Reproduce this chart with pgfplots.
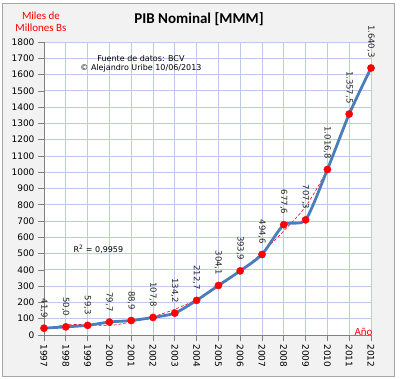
\documentclass[border=0pt]{standalone}
\usepackage{pgfplots}
\pgfplotsset{compat=1.18}
\usepackage{pgfplotstable}
\usepackage{graphicx}
\usepackage{fontspec}
\setmainfont{Carlito}
\newfontfamily\dv{DejaVu Sans}
\definecolor{gridblue}{HTML}{BCCBEA}
\definecolor{lineblue}{HTML}{4A7EBB}
\definecolor{bggray}{HTML}{F2F2F2}
\definecolor{framegray}{HTML}{A6A6A6}
\pgfplotstableread{
year val label
1997 41.9 41,9
1998 50.0 50,0
1999 59.3 59,3
2000 79.7 79,7
2001 88.9 88,9
2002 107.8 107,8
2003 134.2 134,2
2004 212.7 212,7
2005 304.1 304,1
2006 393.9 393,9
2007 494.6 494,6
2008 677.6 677,6
2009 707.3 707,3
2010 1016.8 1.016,8
2011 1357.5 1.357,5
2012 1640.3 1.640,3
}\pib
\begin{document}
\begin{tikzpicture}[x=1pt,y=1pt]
\useasboundingbox (0,0) rectangle (400,379);
\fill[white] (0,0) rectangle (400,379);
\draw[framegray,fill=bggray] (2,3) rectangle (394,376);
\fill[white] (44,44) rectangle (371,337);
\begin{axis}[
  at={(44pt,44pt)}, anchor=south west,
  scale only axis, width=327pt, height=293pt,
  xmin=1997, xmax=2012, ymin=0, ymax=1800,
  xtick={1997,...,2012}, ytick={0,100,...,1800},
  grid=major,
  grid style={gridblue, line width=0.8pt},
  axis lines*=left,
  axis line style={gray, line width=0.6pt},
  tick style={gray, line width=0.6pt},
  tick align=outside,
  major tick length=6pt,
  x tick label style={rotate=-90, anchor=west, font=\dv\fontsize{9}{11}\selectfont, /pgf/number format/1000 sep={}},
  y tick label style={font=\dv\fontsize{9}{11}\selectfont, /pgf/number format/1000 sep={}},
  /pgf/number format/assume math mode=true,
  clip=false,
]
\addplot[red, densely dashed, line width=0.6pt, smooth] coordinates {
 (1997,38) (1998,62) (1999,64) (2000,58) (2001,80) (2002,112) (2003,158) (2004,218) (2005,297) (2006,392) (2007,505) (2008,640) (2009,790) (2010,1020) (2011,1345) (2012,1645)};
\addplot[lineblue, line width=2.8pt, smooth, tension=0.4] table[x=year, y=val] {\pib};
\addplot[only marks, mark=*, mark size=3.6pt, red,
  nodes near coords={\rotatebox{-90}{\pgfplotspointmeta}}, point meta=explicit symbolic,
  every node near coord/.append style={black!85, font=\dv\fontsize{8.5}{10}\selectfont, yshift=7pt}
] table[x=year, y=val, meta=label] {\pib};
\end{axis}
\node[font=\fontsize{15}{17}\selectfont\bfseries] at (199,360) {PIB Nominal [MMM]};
\node[red, font=\fontsize{11}{13}\selectfont, align=center] at (41,357) {Miles de\\[-1pt]Millones Bs};
\node[font=\dv\fontsize{8}{10}\selectfont, align=center] at (141,315) {Fuente de datos: BCV\\[-0.5pt]\textcopyright\ Alejandro Uribe 10/06/2013};
\node[font=\dv\fontsize{8}{10}\selectfont, anchor=west] at (70,130) {R\textsuperscript{2} = 0,9959};
\node[red, font=\fontsize{11}{13}\selectfont, anchor=east] at (376,47) {Año};
\end{tikzpicture}
\end{document}
